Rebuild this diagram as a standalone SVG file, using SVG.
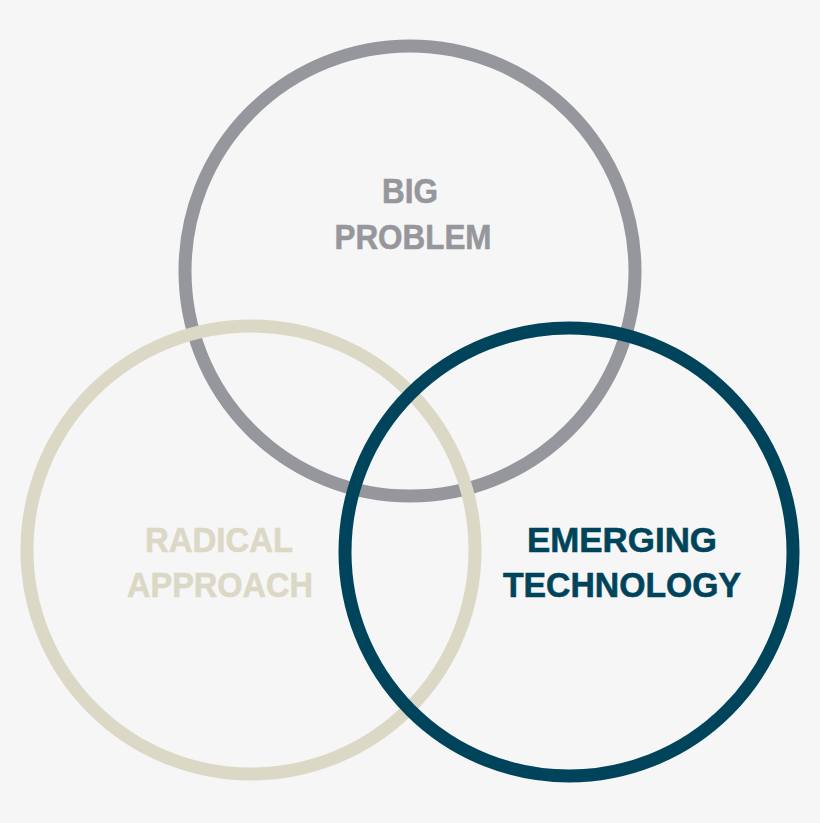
<svg xmlns="http://www.w3.org/2000/svg" width="820" height="823" viewBox="0 0 820 823">
  <style>
    .ring { fill: none; stroke-width: 13; }
    .lbl { font-family: "Liberation Sans", Arial, sans-serif; font-weight: 700; font-size: 35px; text-anchor: middle; stroke-width: 0.6; }
  </style>
  <rect x="0" y="0" width="820" height="823" fill="#f6f6f6"/>
  <g id="connectors"></g>
  <g id="big-problem">
    <circle class="ring" cx="410" cy="271" r="225" stroke="#96979c"/>
    <text class="lbl" fill="#96979c" stroke="#96979c" x="410" y="203" textLength="56" lengthAdjust="spacingAndGlyphs">BIG</text>
    <text class="lbl" fill="#96979c" stroke="#96979c" x="413" y="249" textLength="157" lengthAdjust="spacingAndGlyphs">PROBLEM</text>
  </g>
  <g id="radical-approach">
    <circle class="ring" cx="251" cy="550" r="224" stroke="#dcd8c6"/>
    <text class="lbl" fill="#dcd8c6" stroke="#dcd8c6" x="219" y="552" textLength="148" lengthAdjust="spacingAndGlyphs">RADICAL</text>
    <text class="lbl" fill="#dcd8c6" stroke="#dcd8c6" x="220" y="597" textLength="186" lengthAdjust="spacingAndGlyphs">APPROACH</text>
  </g>
  <g id="emerging-technology">
    <circle class="ring" cx="569" cy="552" r="224" stroke="#00445c"/>
    <text class="lbl" fill="#00445c" stroke="#00445c" x="622" y="552" textLength="190" lengthAdjust="spacingAndGlyphs">EMERGING</text>
    <text class="lbl" fill="#00445c" stroke="#00445c" x="622" y="597" textLength="238" lengthAdjust="spacingAndGlyphs">TECHNOLOGY</text>
  </g>
</svg>
